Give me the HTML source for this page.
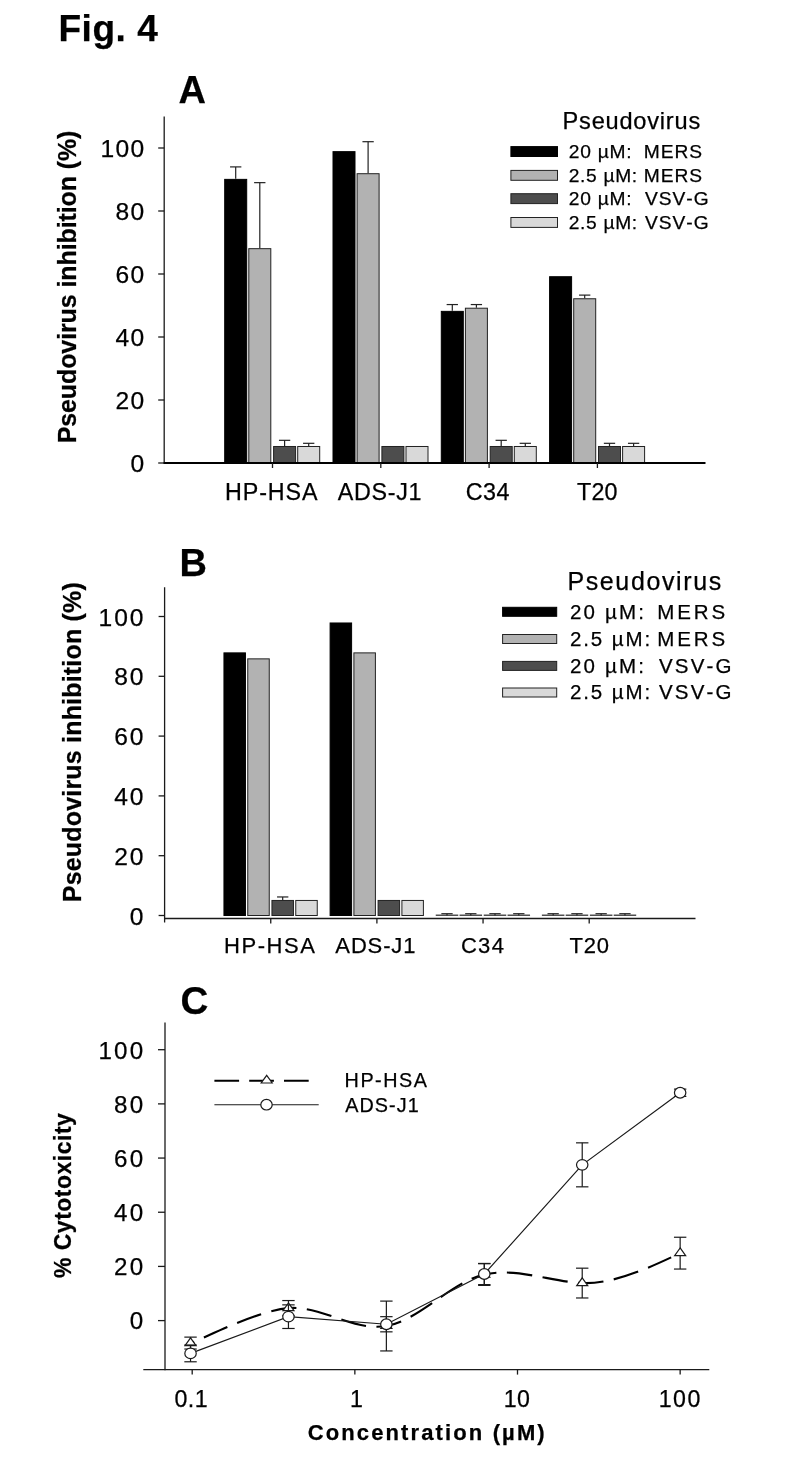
<!DOCTYPE html>
<html><head><meta charset="utf-8"><title>Fig. 4</title>
<style>
html,body{margin:0;padding:0;background:#fff;}
svg{display:block;font-family:"Liberation Sans",Arial,Helvetica,sans-serif;}
svg text{white-space:pre;font-kerning:none;stroke:#000;stroke-width:0.25px;}
</style></head><body>
<svg width="785" height="1470" viewBox="0 0 785 1470">
<rect x="0" y="0" width="785" height="1470" fill="#ffffff"/>
<text x="58.42" y="41.30" font-size="37" font-weight="bold" stroke="none" letter-spacing="0.571" fill="#000">Fig. 4</text>
<text x="178.45" y="102.50" font-size="38" font-weight="bold" stroke="none" letter-spacing="0.000" fill="#000">A</text>
<text x="179.46" y="575.70" font-size="38" font-weight="bold" stroke="none" letter-spacing="0.000" fill="#000">B</text>
<line x1="235.70" y1="178.87" x2="235.70" y2="166.90" stroke="#222" stroke-width="1.2" />
<line x1="230.05" y1="166.90" x2="241.35" y2="166.90" stroke="#222" stroke-width="1.2" />
<rect x="224.70" y="179.37" width="22.00" height="283.13" fill="#000000" stroke="#000" stroke-width="1"/>
<line x1="259.80" y1="248.17" x2="259.80" y2="182.65" stroke="#222" stroke-width="1.2" />
<line x1="254.15" y1="182.65" x2="265.45" y2="182.65" stroke="#222" stroke-width="1.2" />
<rect x="248.80" y="248.67" width="22.00" height="213.83" fill="#b2b2b2" stroke="#222" stroke-width="1"/>
<line x1="284.60" y1="445.99" x2="284.60" y2="440.32" stroke="#222" stroke-width="1.2" />
<line x1="278.95" y1="440.32" x2="290.25" y2="440.32" stroke="#222" stroke-width="1.2" />
<rect x="273.60" y="446.49" width="22.00" height="16.01" fill="#4d4d4d" stroke="#222" stroke-width="1"/>
<line x1="308.70" y1="445.99" x2="308.70" y2="443.31" stroke="#222" stroke-width="1.2" />
<line x1="303.05" y1="443.31" x2="314.35" y2="443.31" stroke="#222" stroke-width="1.2" />
<rect x="297.70" y="446.49" width="22.00" height="16.01" fill="#d9d9d9" stroke="#222" stroke-width="1"/>
<rect x="333.00" y="151.65" width="22.00" height="310.85" fill="#000000" stroke="#000" stroke-width="1"/>
<line x1="368.10" y1="173.20" x2="368.10" y2="141.70" stroke="#222" stroke-width="1.2" />
<line x1="362.45" y1="141.70" x2="373.75" y2="141.70" stroke="#222" stroke-width="1.2" />
<rect x="357.10" y="173.70" width="22.00" height="288.80" fill="#b2b2b2" stroke="#222" stroke-width="1"/>
<rect x="381.90" y="446.49" width="22.00" height="16.01" fill="#4d4d4d" stroke="#222" stroke-width="1"/>
<rect x="406.00" y="446.49" width="22.00" height="16.01" fill="#d9d9d9" stroke="#222" stroke-width="1"/>
<line x1="452.30" y1="310.86" x2="452.30" y2="304.56" stroke="#222" stroke-width="1.2" />
<line x1="446.65" y1="304.56" x2="457.95" y2="304.56" stroke="#222" stroke-width="1.2" />
<rect x="441.30" y="311.36" width="22.00" height="151.14" fill="#000000" stroke="#000" stroke-width="1"/>
<line x1="476.40" y1="307.71" x2="476.40" y2="304.56" stroke="#222" stroke-width="1.2" />
<line x1="470.75" y1="304.56" x2="482.05" y2="304.56" stroke="#222" stroke-width="1.2" />
<rect x="465.40" y="308.21" width="22.00" height="154.29" fill="#b2b2b2" stroke="#222" stroke-width="1"/>
<line x1="501.20" y1="445.99" x2="501.20" y2="440.32" stroke="#222" stroke-width="1.2" />
<line x1="495.55" y1="440.32" x2="506.85" y2="440.32" stroke="#222" stroke-width="1.2" />
<rect x="490.20" y="446.49" width="22.00" height="16.01" fill="#4d4d4d" stroke="#222" stroke-width="1"/>
<line x1="525.30" y1="445.99" x2="525.30" y2="443.31" stroke="#222" stroke-width="1.2" />
<line x1="519.65" y1="443.31" x2="530.95" y2="443.31" stroke="#222" stroke-width="1.2" />
<rect x="514.30" y="446.49" width="22.00" height="16.01" fill="#d9d9d9" stroke="#222" stroke-width="1"/>
<rect x="549.60" y="276.71" width="22.00" height="185.79" fill="#000000" stroke="#000" stroke-width="1"/>
<line x1="584.70" y1="298.25" x2="584.70" y2="295.11" stroke="#222" stroke-width="1.2" />
<line x1="579.05" y1="295.11" x2="590.35" y2="295.11" stroke="#222" stroke-width="1.2" />
<rect x="573.70" y="298.75" width="22.00" height="163.75" fill="#b2b2b2" stroke="#222" stroke-width="1"/>
<line x1="609.50" y1="445.99" x2="609.50" y2="443.31" stroke="#222" stroke-width="1.2" />
<line x1="603.85" y1="443.31" x2="615.15" y2="443.31" stroke="#222" stroke-width="1.2" />
<rect x="598.50" y="446.49" width="22.00" height="16.01" fill="#4d4d4d" stroke="#222" stroke-width="1"/>
<line x1="633.60" y1="445.99" x2="633.60" y2="443.31" stroke="#222" stroke-width="1.2" />
<line x1="627.95" y1="443.31" x2="639.25" y2="443.31" stroke="#222" stroke-width="1.2" />
<rect x="622.60" y="446.49" width="22.00" height="16.01" fill="#d9d9d9" stroke="#222" stroke-width="1"/>
<line x1="164.20" y1="116.60" x2="164.20" y2="463.65" stroke="#1a1a1a" stroke-width="1.3" />
<line x1="163.55" y1="463.00" x2="705.50" y2="463.00" stroke="#000" stroke-width="1.9" />
<line x1="158.20" y1="463.00" x2="164.20" y2="463.00" stroke="#1a1a1a" stroke-width="1.3" />
<line x1="158.20" y1="400.00" x2="164.20" y2="400.00" stroke="#1a1a1a" stroke-width="1.3" />
<line x1="158.20" y1="337.00" x2="164.20" y2="337.00" stroke="#1a1a1a" stroke-width="1.3" />
<line x1="158.20" y1="274.00" x2="164.20" y2="274.00" stroke="#1a1a1a" stroke-width="1.3" />
<line x1="158.20" y1="211.00" x2="164.20" y2="211.00" stroke="#1a1a1a" stroke-width="1.3" />
<line x1="158.20" y1="148.00" x2="164.20" y2="148.00" stroke="#1a1a1a" stroke-width="1.3" />
<line x1="272.50" y1="463.00" x2="272.50" y2="468.00" stroke="#1a1a1a" stroke-width="1.3" />
<line x1="380.80" y1="463.00" x2="380.80" y2="468.00" stroke="#1a1a1a" stroke-width="1.3" />
<line x1="489.10" y1="463.00" x2="489.10" y2="468.00" stroke="#1a1a1a" stroke-width="1.3" />
<line x1="597.40" y1="463.00" x2="597.40" y2="468.00" stroke="#1a1a1a" stroke-width="1.3" />
<rect x="223.95" y="652.88" width="21.50" height="262.62" fill="#000000" stroke="#000" stroke-width="1"/>
<rect x="247.75" y="658.86" width="21.50" height="256.64" fill="#b2b2b2" stroke="#222" stroke-width="1"/>
<line x1="282.70" y1="899.95" x2="282.70" y2="896.96" stroke="#222" stroke-width="1.2" />
<line x1="277.05" y1="896.96" x2="288.35" y2="896.96" stroke="#222" stroke-width="1.2" />
<rect x="271.95" y="900.45" width="21.50" height="15.05" fill="#4d4d4d" stroke="#222" stroke-width="1"/>
<rect x="295.75" y="900.45" width="21.50" height="15.05" fill="#d9d9d9" stroke="#222" stroke-width="1"/>
<rect x="330.10" y="622.98" width="21.50" height="292.52" fill="#000000" stroke="#000" stroke-width="1"/>
<rect x="353.90" y="652.88" width="21.50" height="262.62" fill="#b2b2b2" stroke="#222" stroke-width="1"/>
<rect x="378.10" y="900.45" width="21.50" height="15.05" fill="#4d4d4d" stroke="#222" stroke-width="1"/>
<rect x="401.90" y="900.45" width="21.50" height="15.05" fill="#d9d9d9" stroke="#222" stroke-width="1"/>
<line x1="447.00" y1="915.50" x2="447.00" y2="913.71" stroke="#222" stroke-width="1.2" />
<line x1="441.35" y1="913.71" x2="452.65" y2="913.71" stroke="#222" stroke-width="1.2" />
<line x1="435.75" y1="915.20" x2="458.25" y2="915.20" stroke="#222" stroke-width="1.2" />
<line x1="470.80" y1="915.50" x2="470.80" y2="913.71" stroke="#222" stroke-width="1.2" />
<line x1="465.15" y1="913.71" x2="476.45" y2="913.71" stroke="#222" stroke-width="1.2" />
<line x1="459.55" y1="915.20" x2="482.05" y2="915.20" stroke="#222" stroke-width="1.2" />
<line x1="495.00" y1="915.50" x2="495.00" y2="913.71" stroke="#222" stroke-width="1.2" />
<line x1="489.35" y1="913.71" x2="500.65" y2="913.71" stroke="#222" stroke-width="1.2" />
<line x1="483.75" y1="915.20" x2="506.25" y2="915.20" stroke="#222" stroke-width="1.2" />
<line x1="518.80" y1="915.50" x2="518.80" y2="913.71" stroke="#222" stroke-width="1.2" />
<line x1="513.15" y1="913.71" x2="524.45" y2="913.71" stroke="#222" stroke-width="1.2" />
<line x1="507.55" y1="915.20" x2="530.05" y2="915.20" stroke="#222" stroke-width="1.2" />
<line x1="553.15" y1="915.50" x2="553.15" y2="913.71" stroke="#222" stroke-width="1.2" />
<line x1="547.50" y1="913.71" x2="558.80" y2="913.71" stroke="#222" stroke-width="1.2" />
<line x1="541.90" y1="915.20" x2="564.40" y2="915.20" stroke="#222" stroke-width="1.2" />
<line x1="576.95" y1="915.50" x2="576.95" y2="913.71" stroke="#222" stroke-width="1.2" />
<line x1="571.30" y1="913.71" x2="582.60" y2="913.71" stroke="#222" stroke-width="1.2" />
<line x1="565.70" y1="915.20" x2="588.20" y2="915.20" stroke="#222" stroke-width="1.2" />
<line x1="601.15" y1="915.50" x2="601.15" y2="913.71" stroke="#222" stroke-width="1.2" />
<line x1="595.50" y1="913.71" x2="606.80" y2="913.71" stroke="#222" stroke-width="1.2" />
<line x1="589.90" y1="915.20" x2="612.40" y2="915.20" stroke="#222" stroke-width="1.2" />
<line x1="624.95" y1="915.50" x2="624.95" y2="913.71" stroke="#222" stroke-width="1.2" />
<line x1="619.30" y1="913.71" x2="630.60" y2="913.71" stroke="#222" stroke-width="1.2" />
<line x1="613.70" y1="915.20" x2="636.20" y2="915.20" stroke="#222" stroke-width="1.2" />
<line x1="164.60" y1="587.20" x2="164.60" y2="919.15" stroke="#1a1a1a" stroke-width="1.3" />
<line x1="164.60" y1="918.50" x2="695.50" y2="918.50" stroke="#1a1a1a" stroke-width="1.3" />
<line x1="158.60" y1="915.50" x2="164.60" y2="915.50" stroke="#1a1a1a" stroke-width="1.3" />
<line x1="158.60" y1="855.70" x2="164.60" y2="855.70" stroke="#1a1a1a" stroke-width="1.3" />
<line x1="158.60" y1="795.90" x2="164.60" y2="795.90" stroke="#1a1a1a" stroke-width="1.3" />
<line x1="158.60" y1="736.10" x2="164.60" y2="736.10" stroke="#1a1a1a" stroke-width="1.3" />
<line x1="158.60" y1="676.30" x2="164.60" y2="676.30" stroke="#1a1a1a" stroke-width="1.3" />
<line x1="158.60" y1="616.50" x2="164.60" y2="616.50" stroke="#1a1a1a" stroke-width="1.3" />
<line x1="270.75" y1="918.50" x2="270.75" y2="923.50" stroke="#1a1a1a" stroke-width="1.3" />
<line x1="376.90" y1="918.50" x2="376.90" y2="923.50" stroke="#1a1a1a" stroke-width="1.3" />
<line x1="483.05" y1="918.50" x2="483.05" y2="923.50" stroke="#1a1a1a" stroke-width="1.3" />
<line x1="589.20" y1="918.50" x2="589.20" y2="923.50" stroke="#1a1a1a" stroke-width="1.3" />
<line x1="164.60" y1="918.50" x2="164.60" y2="922.50" stroke="#1a1a1a" stroke-width="1.3" />
<text x="130.48" y="472.01" font-size="24.6" letter-spacing="0.000" fill="#000">0</text>
<text x="115.50" y="409.01" font-size="24.6" letter-spacing="1.295" fill="#000">20</text>
<text x="115.50" y="346.01" font-size="24.6" letter-spacing="1.295" fill="#000">40</text>
<text x="115.50" y="283.01" font-size="24.6" letter-spacing="1.295" fill="#000">60</text>
<text x="115.50" y="220.01" font-size="24.6" letter-spacing="1.295" fill="#000">80</text>
<text x="100.53" y="157.01" font-size="24.6" letter-spacing="1.295" fill="#000">100</text>
<text x="129.78" y="924.51" font-size="24.6" letter-spacing="0.000" fill="#000">0</text>
<text x="114.15" y="864.71" font-size="24.6" letter-spacing="1.945" fill="#000">20</text>
<text x="114.15" y="804.91" font-size="24.6" letter-spacing="1.945" fill="#000">40</text>
<text x="114.15" y="745.11" font-size="24.6" letter-spacing="1.945" fill="#000">60</text>
<text x="114.15" y="685.31" font-size="24.6" letter-spacing="1.945" fill="#000">80</text>
<text x="98.53" y="625.51" font-size="24.6" letter-spacing="1.945" fill="#000">100</text>
<text x="129.69" y="1329.46" font-size="24.2" letter-spacing="0.000" fill="#000">0</text>
<text x="114.12" y="1275.31" font-size="24.2" letter-spacing="2.106" fill="#000">20</text>
<text x="114.12" y="1221.16" font-size="24.2" letter-spacing="2.106" fill="#000">40</text>
<text x="114.12" y="1167.01" font-size="24.2" letter-spacing="2.106" fill="#000">60</text>
<text x="114.12" y="1112.86" font-size="24.2" letter-spacing="2.106" fill="#000">80</text>
<text x="98.56" y="1058.71" font-size="24.2" letter-spacing="2.106" fill="#000">100</text>
<text transform="translate(76.20,443.37) rotate(-90)" font-size="25" font-weight="bold" stroke="none" letter-spacing="-0.099" fill="#000">Pseudovirus inhibition (%)</text>
<text transform="translate(81.10,902.17) rotate(-90)" font-size="25" font-weight="bold" stroke="none" letter-spacing="0.185" fill="#000">Pseudovirus inhibition (%)</text>
<text transform="translate(71.20,1278.07) rotate(-90)" font-size="23" font-weight="bold" stroke="none" letter-spacing="0.494" fill="#000">% Cytotoxicity</text>
<text x="224.89" y="500.30" font-size="23.3" letter-spacing="0.944" fill="#000">HP-HSA</text>
<text x="337.75" y="500.30" font-size="23.3" letter-spacing="0.701" fill="#000">ADS-J1</text>
<text x="465.72" y="500.30" font-size="23.3" letter-spacing="0.511" fill="#000">C34</text>
<text x="577.08" y="500.30" font-size="23.3" letter-spacing="0.092" fill="#000">T20</text>
<text x="224.10" y="953.00" font-size="22.0" letter-spacing="1.545" fill="#000">HP-HSA</text>
<text x="335.36" y="953.00" font-size="22.0" letter-spacing="0.844" fill="#000">ADS-J1</text>
<text x="460.88" y="953.00" font-size="22.0" letter-spacing="1.352" fill="#000">C34</text>
<text x="569.51" y="953.00" font-size="22.0" letter-spacing="0.822" fill="#000">T20</text>
<text x="562.56" y="128.60" font-size="23.6" letter-spacing="0.782" fill="#000">Pseudovirus</text>
<rect x="510.90" y="146.60" width="46.60" height="9.90" fill="#000000" stroke="#000" stroke-width="1"/>
<rect x="510.90" y="170.40" width="46.60" height="9.90" fill="#b2b2b2" stroke="#222" stroke-width="1"/>
<rect x="510.90" y="193.70" width="46.60" height="9.90" fill="#4d4d4d" stroke="#222" stroke-width="1"/>
<rect x="510.90" y="217.50" width="46.60" height="9.90" fill="#d9d9d9" stroke="#222" stroke-width="1"/>
<text x="568.73" y="157.70" font-size="19.2" letter-spacing="0.767" fill="#000">20 µM:</text>
<text x="643.82" y="157.70" font-size="19.2" letter-spacing="0.961" fill="#000">MERS</text>
<text x="568.73" y="181.50" font-size="19.2" letter-spacing="0.684" fill="#000">2.5 µM:</text>
<text x="643.82" y="181.50" font-size="19.2" letter-spacing="0.961" fill="#000">MERS</text>
<text x="568.73" y="204.80" font-size="19.2" letter-spacing="0.767" fill="#000">20 µM:</text>
<text x="645.12" y="204.80" font-size="19.2" letter-spacing="0.943" fill="#000">VSV-G</text>
<text x="568.73" y="228.60" font-size="19.2" letter-spacing="0.684" fill="#000">2.5 µM:</text>
<text x="645.12" y="228.60" font-size="19.2" letter-spacing="0.943" fill="#000">VSV-G</text>
<text x="567.45" y="590.20" font-size="25" letter-spacing="1.618" fill="#000">Pseudovirus</text>
<rect x="502.60" y="607.30" width="54.10" height="9.00" fill="#000000" stroke="#000" stroke-width="1"/>
<rect x="502.60" y="634.50" width="54.10" height="9.00" fill="#b2b2b2" stroke="#222" stroke-width="1"/>
<rect x="502.60" y="661.40" width="54.10" height="9.00" fill="#4d4d4d" stroke="#222" stroke-width="1"/>
<rect x="502.60" y="688.00" width="54.10" height="9.00" fill="#d9d9d9" stroke="#222" stroke-width="1"/>
<text x="569.97" y="618.60" font-size="20.5" letter-spacing="2.164" fill="#000">20 µM:</text>
<text x="657.32" y="618.60" font-size="20.5" letter-spacing="2.898" fill="#000">MERS</text>
<text x="569.97" y="645.80" font-size="20.5" letter-spacing="1.904" fill="#000">2.5 µM:</text>
<text x="657.32" y="645.80" font-size="20.5" letter-spacing="2.898" fill="#000">MERS</text>
<text x="569.97" y="672.70" font-size="20.5" letter-spacing="2.164" fill="#000">20 µM:</text>
<text x="658.91" y="672.70" font-size="20.5" letter-spacing="2.207" fill="#000">VSV-G</text>
<text x="569.97" y="699.30" font-size="20.5" letter-spacing="1.904" fill="#000">2.5 µM:</text>
<text x="658.91" y="699.30" font-size="20.5" letter-spacing="2.207" fill="#000">VSV-G</text>
<text x="180.52" y="1013.70" font-size="38.5" font-weight="bold" stroke="none" letter-spacing="0.000" fill="#000">C</text>
<line x1="165.00" y1="1022.50" x2="165.00" y2="1370.25" stroke="#1a1a1a" stroke-width="1.3" />
<line x1="143.30" y1="1369.60" x2="709.30" y2="1369.60" stroke="#1a1a1a" stroke-width="1.3" />
<line x1="158.00" y1="1320.60" x2="165.00" y2="1320.60" stroke="#1a1a1a" stroke-width="1.3" />
<line x1="158.00" y1="1266.42" x2="165.00" y2="1266.42" stroke="#1a1a1a" stroke-width="1.3" />
<line x1="158.00" y1="1212.24" x2="165.00" y2="1212.24" stroke="#1a1a1a" stroke-width="1.3" />
<line x1="158.00" y1="1158.06" x2="165.00" y2="1158.06" stroke="#1a1a1a" stroke-width="1.3" />
<line x1="158.00" y1="1103.88" x2="165.00" y2="1103.88" stroke="#1a1a1a" stroke-width="1.3" />
<line x1="158.00" y1="1049.70" x2="165.00" y2="1049.70" stroke="#1a1a1a" stroke-width="1.3" />
<line x1="192.20" y1="1369.60" x2="192.20" y2="1374.60" stroke="#1a1a1a" stroke-width="1.3" />
<line x1="354.85" y1="1369.60" x2="354.85" y2="1374.60" stroke="#1a1a1a" stroke-width="1.3" />
<line x1="517.50" y1="1369.60" x2="517.50" y2="1374.60" stroke="#1a1a1a" stroke-width="1.3" />
<line x1="680.15" y1="1369.60" x2="680.15" y2="1374.60" stroke="#1a1a1a" stroke-width="1.3" />
<text x="174.39" y="1406.60" font-size="23.2" letter-spacing="0.544" fill="#000">0.1</text>
<text x="350.03" y="1406.60" font-size="23.2" letter-spacing="0.000" fill="#000">1</text>
<text x="503.63" y="1406.60" font-size="23.2" letter-spacing="0.368" fill="#000">10</text>
<text x="658.63" y="1406.60" font-size="23.2" letter-spacing="1.583" fill="#000">100</text>
<text x="307.70" y="1440.00" font-size="22" font-weight="bold" stroke="none" letter-spacing="2.125" fill="#000">Concentration (µM)</text>
<path d="M190.53,1343.08 C206.85,1337.26 255.81,1310.98 288.45,1308.14 C321.09,1305.29 353.73,1331.62 386.37,1326.02 C419.02,1320.42 451.66,1281.70 484.30,1274.55 C516.94,1267.39 549.62,1281.48 582.22,1283.08 C614.82,1284.68 655.15,1264.90 680.15,1253.15" fill="none" stroke="#000" stroke-width="2.1" stroke-dasharray="25.5 10.5" stroke-dashoffset="21.2"/>
<polyline points="190.53,1353.38 288.45,1316.67 386.37,1324.26 484.30,1274.01 582.22,1164.83 680.15,1092.77" fill="none" stroke="#1a1a1a" stroke-width="1.2"/>
<line x1="190.53" y1="1337.12" x2="190.53" y2="1349.04" stroke="#1a1a1a" stroke-width="1.2" />
<line x1="184.33" y1="1337.12" x2="196.73" y2="1337.12" stroke="#1a1a1a" stroke-width="1.2" />
<line x1="184.33" y1="1349.04" x2="196.73" y2="1349.04" stroke="#1a1a1a" stroke-width="1.2" />
<line x1="288.45" y1="1300.55" x2="288.45" y2="1315.72" stroke="#1a1a1a" stroke-width="1.2" />
<line x1="282.25" y1="1300.55" x2="294.65" y2="1300.55" stroke="#1a1a1a" stroke-width="1.2" />
<line x1="282.25" y1="1315.72" x2="294.65" y2="1315.72" stroke="#1a1a1a" stroke-width="1.2" />
<line x1="386.37" y1="1301.10" x2="386.37" y2="1350.94" stroke="#1a1a1a" stroke-width="1.2" />
<line x1="380.17" y1="1301.10" x2="392.57" y2="1301.10" stroke="#1a1a1a" stroke-width="1.2" />
<line x1="380.17" y1="1350.94" x2="392.57" y2="1350.94" stroke="#1a1a1a" stroke-width="1.2" />
<line x1="484.30" y1="1263.71" x2="484.30" y2="1285.38" stroke="#1a1a1a" stroke-width="1.2" />
<line x1="478.10" y1="1263.71" x2="490.50" y2="1263.71" stroke="#1a1a1a" stroke-width="1.2" />
<line x1="478.10" y1="1285.38" x2="490.50" y2="1285.38" stroke="#1a1a1a" stroke-width="1.2" />
<line x1="582.22" y1="1268.18" x2="582.22" y2="1297.98" stroke="#1a1a1a" stroke-width="1.2" />
<line x1="576.02" y1="1268.18" x2="588.42" y2="1268.18" stroke="#1a1a1a" stroke-width="1.2" />
<line x1="576.02" y1="1297.98" x2="588.42" y2="1297.98" stroke="#1a1a1a" stroke-width="1.2" />
<line x1="680.15" y1="1237.24" x2="680.15" y2="1269.05" stroke="#1a1a1a" stroke-width="1.2" />
<line x1="673.95" y1="1237.24" x2="686.35" y2="1237.24" stroke="#1a1a1a" stroke-width="1.2" />
<line x1="673.95" y1="1269.05" x2="686.35" y2="1269.05" stroke="#1a1a1a" stroke-width="1.2" />
<polygon points="190.53,1337.88 196.03,1345.58 185.03,1345.58" fill="#fff" stroke="#1a1a1a" stroke-width="1.2"/>
<polygon points="288.45,1302.94 293.95,1310.64 282.95,1310.64" fill="#fff" stroke="#1a1a1a" stroke-width="1.2"/>
<polygon points="386.37,1320.82 391.87,1328.52 380.87,1328.52" fill="#fff" stroke="#1a1a1a" stroke-width="1.2"/>
<polygon points="484.30,1269.35 489.80,1277.05 478.80,1277.05" fill="#fff" stroke="#1a1a1a" stroke-width="1.2"/>
<polygon points="582.22,1277.88 587.72,1285.58 576.72,1285.58" fill="#fff" stroke="#1a1a1a" stroke-width="1.2"/>
<polygon points="680.15,1247.95 685.65,1255.65 674.65,1255.65" fill="#fff" stroke="#1a1a1a" stroke-width="1.2"/>
<line x1="190.53" y1="1344.98" x2="190.53" y2="1361.78" stroke="#1a1a1a" stroke-width="1.2" />
<line x1="184.33" y1="1344.98" x2="196.73" y2="1344.98" stroke="#1a1a1a" stroke-width="1.2" />
<line x1="184.33" y1="1361.78" x2="196.73" y2="1361.78" stroke="#1a1a1a" stroke-width="1.2" />
<line x1="288.45" y1="1304.86" x2="288.45" y2="1328.48" stroke="#1a1a1a" stroke-width="1.2" />
<line x1="282.25" y1="1304.86" x2="294.65" y2="1304.86" stroke="#1a1a1a" stroke-width="1.2" />
<line x1="282.25" y1="1328.48" x2="294.65" y2="1328.48" stroke="#1a1a1a" stroke-width="1.2" />
<line x1="386.37" y1="1316.67" x2="386.37" y2="1331.84" stroke="#1a1a1a" stroke-width="1.2" />
<line x1="380.17" y1="1316.67" x2="392.57" y2="1316.67" stroke="#1a1a1a" stroke-width="1.2" />
<line x1="380.17" y1="1331.84" x2="392.57" y2="1331.84" stroke="#1a1a1a" stroke-width="1.2" />
<line x1="484.30" y1="1263.44" x2="484.30" y2="1284.57" stroke="#1a1a1a" stroke-width="1.2" />
<line x1="478.10" y1="1263.44" x2="490.50" y2="1263.44" stroke="#1a1a1a" stroke-width="1.2" />
<line x1="478.10" y1="1284.57" x2="490.50" y2="1284.57" stroke="#1a1a1a" stroke-width="1.2" />
<line x1="582.22" y1="1142.84" x2="582.22" y2="1186.83" stroke="#1a1a1a" stroke-width="1.2" />
<line x1="576.02" y1="1142.84" x2="588.42" y2="1142.84" stroke="#1a1a1a" stroke-width="1.2" />
<line x1="576.02" y1="1186.83" x2="588.42" y2="1186.83" stroke="#1a1a1a" stroke-width="1.2" />
<line x1="680.15" y1="1089.12" x2="680.15" y2="1096.43" stroke="#1a1a1a" stroke-width="1.2" />
<line x1="673.95" y1="1089.12" x2="686.35" y2="1089.12" stroke="#1a1a1a" stroke-width="1.2" />
<line x1="673.95" y1="1096.43" x2="686.35" y2="1096.43" stroke="#1a1a1a" stroke-width="1.2" />
<ellipse cx="190.53" cy="1353.38" rx="5.7" ry="5.3" fill="#fff" stroke="#1a1a1a" stroke-width="1.2"/>
<ellipse cx="288.45" cy="1316.67" rx="5.7" ry="5.3" fill="#fff" stroke="#1a1a1a" stroke-width="1.2"/>
<ellipse cx="386.37" cy="1324.26" rx="5.7" ry="5.3" fill="#fff" stroke="#1a1a1a" stroke-width="1.2"/>
<ellipse cx="484.30" cy="1274.01" rx="5.7" ry="5.3" fill="#fff" stroke="#1a1a1a" stroke-width="1.2"/>
<ellipse cx="582.22" cy="1164.83" rx="5.7" ry="5.3" fill="#fff" stroke="#1a1a1a" stroke-width="1.2"/>
<ellipse cx="680.15" cy="1092.77" rx="5.7" ry="5.3" fill="#fff" stroke="#1a1a1a" stroke-width="1.2"/>
<line x1="214.4" y1="1080.8" x2="308.9" y2="1080.8" stroke="#000" stroke-width="2.1" stroke-dasharray="24.7 10.1"/>
<polygon points="266.70,1075.30 272.20,1083.00 261.20,1083.00" fill="#fff" stroke="#1a1a1a" stroke-width="1.2"/>
<line x1="214.40" y1="1104.75" x2="318.70" y2="1104.75" stroke="#1a1a1a" stroke-width="1.2" />
<ellipse cx="266.50" cy="1104.70" rx="5.7" ry="5.3" fill="#fff" stroke="#1a1a1a" stroke-width="1.2"/>
<text x="344.58" y="1087.10" font-size="19.8" letter-spacing="1.530" fill="#000">HP-HSA</text>
<text x="345.16" y="1111.70" font-size="19.8" letter-spacing="1.078" fill="#000">ADS-J1</text>
</svg>
</body></html>
